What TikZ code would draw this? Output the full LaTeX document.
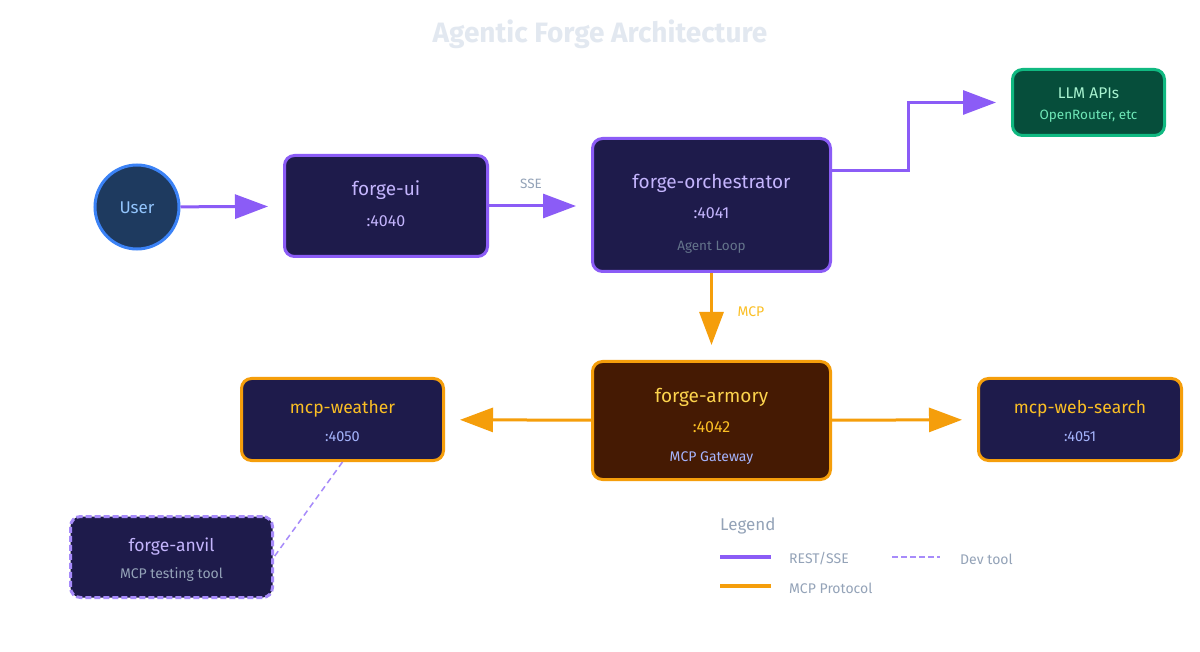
\documentclass[tikz,border=0pt]{standalone}
\usepackage{fontspec}
\setmainfont{Fira Sans}
\usetikzlibrary{arrows.meta,positioning,calc}
\definecolor{titlec}{HTML}{E2E8F0}
\definecolor{boxfill}{HTML}{1E1B4B}
\definecolor{purp}{HTML}{8B5CF6}
\definecolor{purplight}{HTML}{C4B5FD}
\definecolor{devc}{HTML}{A78BFA}
\definecolor{orng}{HTML}{F59E0B}
\definecolor{gold}{HTML}{FCD34D}
\definecolor{gold2}{HTML}{FBBF24}
\definecolor{armfill}{HTML}{451A03}
\definecolor{lav}{HTML}{A5B4FC}
\definecolor{llmfill}{HTML}{064E3B}
\definecolor{llmstroke}{HTML}{10B981}
\definecolor{llmtext}{HTML}{A7F3D0}
\definecolor{llmsub}{HTML}{6EE7B7}
\definecolor{userfill}{HTML}{1E3A5F}
\definecolor{userstroke}{HTML}{3B82F6}
\definecolor{usertext}{HTML}{93C5FD}
\definecolor{greyt}{HTML}{94A3B8}
\definecolor{greyd}{HTML}{64748B}
\newcommand{\fs}[1]{\fontsize{#1}{#1}\selectfont}
\begin{document}
\begin{tikzpicture}[x=1pt,y=-1pt,
  box/.style={draw=purp, fill=boxfill, line width=3pt, rounded corners=10pt, inner sep=0pt},
  mcpbox/.style={box, draw=orng},
  txt/.style={inner sep=0pt, anchor=center},
  restarrow/.style={draw=purp, line width=3pt, -{Triangle[length=33pt,width=24pt]}, shorten >=15pt},
  mcparrow/.style={draw=orng, line width=3pt, -{Triangle[length=33pt,width=24pt]}, shorten >=15pt},
  devline/.style={draw=devc, line width=1.5pt, dash pattern=on 6pt off 4pt}
]
\useasboundingbox (0,0) rectangle (1200,652);
\fill[white] (0,0) rectangle (1200,652);

\node[txt, font=\fs{28}\bfseries, text=titlec] (title) at (600,34) {Agentic Forge Architecture};

% nodes
\node[circle, draw=userstroke, fill=userfill, line width=3pt, minimum size=84pt, inner sep=0pt] (user) at (137,207) {};
\node[txt, font=\fs{17}, text=usertext] (usert) at (137,208) {User};

\node[box, minimum width=203pt, minimum height=101pt] (ui) at (386,206) {};
\node[txt, font=\fs{19}, text=purplight] (uit) at (386,190) {forge-ui};
\node[txt, font=\fs{16}, text=purplight] (uip) at (386,221) {:4040};

\node[box, minimum width=238pt, minimum height=133pt] (orch) at (711.5,205) {};
\node[txt, font=\fs{19}, text=purplight] (orcht) at (711.5,183) {forge-orchestrator};
\node[txt, font=\fs{16}, text=purplight] (orchp) at (711.5,213) {:4041};
\node[txt, font=\fs{13.5}, text=greyd] (orchs) at (711.5,247) {Agent Loop};

\node[box, draw=llmstroke, fill=llmfill, minimum width=152pt, minimum height=66pt] (llm) at (1088.5,102.5) {};
\node[txt, font=\fs{15.5}, text=llmtext] (llmt) at (1088.5,93) {LLM APIs};
\node[txt, font=\fs{13.5}, text=llmsub] (llms) at (1088.5,116) {OpenRouter, etc};

\node[mcpbox, fill=armfill, minimum width=238pt, minimum height=118pt] (arm) at (711.5,420.5) {};
\node[txt, font=\fs{19}, text=gold] (armt) at (711.5,397) {forge-armory};
\node[txt, font=\fs{16}, text=gold2] (armp) at (711.5,427) {:4042};
\node[txt, font=\fs{14}, text=lav] (arms) at (711.5,458) {MCP Gateway};

\node[mcpbox, minimum width=202pt, minimum height=82pt] (wea) at (342.5,419.5) {};
\node[txt, font=\fs{17.5}, text=gold2] (weat) at (342.5,409) {mcp-weather};
\node[txt, font=\fs{14.5}, text=lav] (weap) at (342.5,437) {:4050};

\node[mcpbox, minimum width=203pt, minimum height=82pt] (web) at (1080,419.5) {};
\node[txt, font=\fs{17.5}, text=gold2] (webt) at (1080,409) {mcp-web-search};
\node[txt, font=\fs{14.5}, text=lav] (webp) at (1080,437) {:4051};

\node[box, draw=devc, dash pattern=on 6pt off 3pt, minimum width=202pt, minimum height=81pt] (anvil) at (171.5,557) {};
\node[txt, font=\fs{17.5}, text=purplight] (anvilt) at (171.5,547) {forge-anvil};
\node[txt, font=\fs{14}, text=greyt] (anvils) at (171.5,575) {MCP testing tool};

% connectors
\draw[restarrow] (user) -- (ui);
\draw[restarrow] (ui) -- (ui -| orch.west);
\node[txt, font=\fs{13.5}, text=greyt] (sse) at (531,184) {SSE};
\draw[restarrow] ([yshift=34pt]orch.east) -- ++(76,0) |- (llm.west);
\draw[mcparrow] (orch) -- (arm);
\node[txt, font=\fs{14}, text=gold2] (mcpl) at (751,312) {MCP};
\draw[mcparrow] (arm) -- (wea);
\draw[mcparrow] (arm) -- (web);
\draw[devline] (wea.south) -- (anvil.east);

% legend
\node[txt, anchor=west, font=\fs{17}, text=greyt] (leg) at (720,526) {Legend};
\draw[purp, line width=3.5pt] (720,557) -- (771,557);
\node[txt, anchor=west, font=\fs{14}, text=greyt] (legrest) at (789,559) {REST/SSE};
\draw[devc, line width=2pt, dash pattern=on 6pt off 3pt] (892,557) -- (940,557);
\node[txt, anchor=west, font=\fs{14}, text=greyt] (legdev) at (960,559) {Dev tool};
\draw[orng, line width=3.5pt] (720,586) -- (771,586);
\node[txt, anchor=west, font=\fs{14}, text=greyt] (legmcp) at (789,588) {MCP Protocol};
\end{tikzpicture}
\end{document}
